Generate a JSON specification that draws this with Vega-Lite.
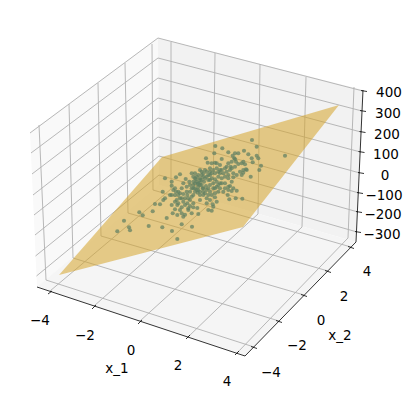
{"$schema":"https://vega.github.io/schema/vega-lite/v6.json","width":412,"height":400,"padding":0,"autosize":"none","background":"white","config":{"view":{"stroke":null}},
"datasets":{
"panes":[
{"p":"left","o":1,"u":30,"v":132},{"p":"left","o":2,"u":158,"v":38},{"p":"left","o":3,"u":159,"v":185},{"p":"left","o":4,"u":37,"v":287},{"p":"left","o":5,"u":30,"v":132}],
"back":[{"p":"back","o":1,"u":158,"v":38},{"p":"back","o":2,"u":363,"v":90},{"p":"back","o":3,"u":356,"v":242},{"p":"back","o":4,"u":159,"v":185},{"p":"back","o":5,"u":158,"v":38}],
"floor":[{"p":"floor","o":1,"u":37,"v":287},{"p":"floor","o":2,"u":159,"v":185},{"p":"floor","o":3,"u":356,"v":242},{"p":"floor","o":4,"u":245,"v":356},{"p":"floor","o":5,"u":37,"v":287}],
"plane":[{"p":"plane","o":1,"u":59,"v":275},{"p":"plane","o":2,"u":162,"v":157},{"p":"plane","o":3,"u":339,"v":105},{"p":"plane","o":4,"u":243,"v":227},{"p":"plane","o":5,"u":59,"v":275}],
"grid":[
{"u":30,"v":133,"u2":158,"v2":38},{"u":31,"v":153,"u2":158,"v2":58},{"u":32,"v":174,"u2":158,"v2":78},{"u":33,"v":195,"u2":158,"v2":98},{"u":34,"v":215,"u2":158,"v2":118},{"u":35,"v":235,"u2":158,"v2":137},{"u":35.5,"v":256,"u2":159,"v2":156},{"u":36.5,"v":276,"u2":159,"v2":175},
{"u":158,"v":38,"u2":363,"v2":91},{"u":158,"v":58,"u2":362,"v2":111},{"u":158,"v":78,"u2":361,"v2":132},{"u":158,"v":98,"u2":360.5,"v2":152},{"u":158,"v":118,"u2":360,"v2":173},{"u":158,"v":137,"u2":359,"v2":193},{"u":159,"v":156,"u2":358,"v2":212},{"u":159,"v":175,"u2":357,"v2":232},
{"u":171,"v":42,"u2":171,"v2":189},{"u":215,"v":53,"u2":213,"v2":201},{"u":260,"v":64,"u2":258,"v2":214},{"u":306,"v":77,"u2":302,"v2":227},{"u":354,"v":87,"u2":348,"v2":238},
{"u":39,"v":125,"u2":46,"v2":280},{"u":69,"v":104,"u2":73,"v2":258},{"u":98,"v":83,"u2":101,"v2":236},{"u":125,"v":63,"u2":128,"v2":213},{"u":152,"v":44,"u2":153,"v2":190},
{"u":171,"v":189,"u2":50,"v2":291},{"u":213,"v":201,"u2":94,"v2":306},{"u":258,"v":214,"u2":140,"v2":321},{"u":302,"v":227,"u2":188,"v2":337},{"u":348,"v":238,"u2":237,"v2":353},
{"u":46,"v":280,"u2":254,"v2":347},{"u":73,"v":258,"u2":279,"v2":321},{"u":101,"v":236,"u2":304,"v2":295},{"u":128,"v":213,"u2":328,"v2":271},{"u":153,"v":190,"u2":351,"v2":247}],
"axes":[
{"u":37,"v":287,"u2":245,"v2":356},{"u":245,"v":356,"u2":356,"v2":242},{"u":356,"v":242,"u2":363,"v2":90},
{"u":48,"v":294,"u2":52,"v2":291},{"u":92,"v":309,"u2":96,"v2":305},{"u":138,"v":324,"u2":142,"v2":320},{"u":186,"v":339,"u2":190,"v2":335},{"u":235,"v":355,"u2":239,"v2":351},
{"u":251,"v":346.5,"u2":257,"v2":348.5},{"u":276,"v":320.5,"u2":282,"v2":322.5},{"u":301,"v":294.5,"u2":307,"v2":296.5},{"u":325,"v":270.5,"u2":331,"v2":272.5},{"u":348,"v":246.5,"u2":354,"v2":248.5},
{"u":361,"v":90.5,"u2":367,"v2":91.5},{"u":360,"v":110.5,"u2":366,"v2":111.5},{"u":359.5,"v":131.5,"u2":365.5,"v2":132.5},{"u":358.5,"v":151.5,"u2":364.5,"v2":152.5},{"u":358,"v":172.5,"u2":364,"v2":173.5},{"u":357,"v":192.5,"u2":363,"v2":193.5},{"u":356,"v":211.5,"u2":362,"v2":212.5},{"u":355,"v":231.5,"u2":361,"v2":232.5}],
"labels":[
{"u":389,"v":93,"t":"400"},{"u":388,"v":114,"t":"300"},{"u":387,"v":135,"t":"200"},{"u":386,"v":155,"t":"100"},{"u":385,"v":176,"t":"0"},{"u":384,"v":196,"t":"−100"},{"u":383,"v":215,"t":"−200"},{"u":382,"v":235,"t":"−300"},
{"u":40,"v":321,"t":"−4"},{"u":85,"v":336,"t":"−2"},{"u":131,"v":351,"t":"0"},{"u":178,"v":366,"t":"2"},{"u":227,"v":382,"t":"4"},
{"u":117,"v":369,"t":"x_1"},
{"u":271,"v":373,"t":"−4"},{"u":297,"v":346,"t":"−2"},{"u":321,"v":321,"t":"0"},{"u":344,"v":297,"t":"2"},{"u":367,"v":272,"t":"4"},
{"u":340,"v":336,"t":"x_2"}],
"points":[{"u":285,"v":155.7},{"u":252,"v":140},{"u":256.7,"v":146.7},{"u":215.3,"v":146},{"u":222.3,"v":148.3},{"u":228.3,"v":152.3},{"u":238.3,"v":153.3},{"u":244,"v":150.7},{"u":248.3,"v":154.3},{"u":235,"v":153.3},{"u":232.7,"v":155.7},{"u":214.3,"v":153.3},{"u":206,"v":158.3},{"u":256.7,"v":155.7},{"u":258.3,"v":158.3},{"u":251.7,"v":158.3},{"u":252.7,"v":162.3},{"u":261,"v":165.7},{"u":259.3,"v":170},{"u":250.7,"v":176.7},{"u":246,"v":169.3},{"u":240,"v":171.7},{"u":241.7,"v":163.3},{"u":245,"v":164.3},{"u":236,"v":161.7},{"u":234.3,"v":158.3},{"u":221.7,"v":159},{"u":215,"v":162.7},{"u":207.7,"v":162.7},{"u":211.7,"v":163.3},{"u":226.7,"v":166.7},{"u":230.7,"v":166.7},{"u":235,"v":166.7},{"u":230,"v":170},{"u":233.3,"v":173.3},{"u":236.7,"v":175},{"u":241.7,"v":175},{"u":246.7,"v":170},{"u":220,"v":165},{"u":216.7,"v":168.3},{"u":210,"v":168.3},{"u":205,"v":170},{"u":201.7,"v":171.7},{"u":180,"v":174.3},{"u":165,"v":178.3},{"u":176,"v":177.3},{"u":171.7,"v":181.7},{"u":185.7,"v":179},{"u":191.7,"v":173.3},{"u":198.3,"v":175},{"u":189.3,"v":181.7},{"u":195,"v":178.3},{"u":203.3,"v":176.7},{"u":210,"v":175},{"u":215,"v":173.3},{"u":220,"v":173.3},{"u":225,"v":176.7},{"u":228.3,"v":178.3},{"u":231.7,"v":181.7},{"u":230,"v":186},{"u":225,"v":188.3},{"u":236.7,"v":190.7},{"u":231.7,"v":191},{"u":227.7,"v":195},{"u":235.7,"v":198.3},{"u":242.3,"v":198.7},{"u":229.3,"v":199.3},{"u":215,"v":197.3},{"u":216.7,"v":201.7},{"u":212.7,"v":204.3},{"u":208.3,"v":210},{"u":211.7,"v":210.7},{"u":213.3,"v":206.7},{"u":206.7,"v":203.3},{"u":200,"v":200},{"u":203.3,"v":195},{"u":210,"v":191.7},{"u":196.7,"v":190},{"u":200,"v":185},{"u":193.3,"v":185},{"u":186.7,"v":186.7},{"u":181.7,"v":188.3},{"u":178.3,"v":191.7},{"u":175,"v":195},{"u":180,"v":193.3},{"u":171.7,"v":195},{"u":162.7,"v":191.7},{"u":171.7,"v":185.7},{"u":165,"v":198.3},{"u":163.3,"v":200},{"u":160,"v":204.3},{"u":155,"v":204},{"u":152.7,"v":211.3},{"u":139.3,"v":212.3},{"u":142.7,"v":215.3},{"u":124,"v":220.7},{"u":117.3,"v":231.3},{"u":129,"v":227.3},{"u":130,"v":230.3},{"u":148.7,"v":226},{"u":162.3,"v":227.3},{"u":172,"v":231},{"u":177.3,"v":239},{"u":181.7,"v":224.3},{"u":192,"v":226.7},{"u":166.7,"v":218},{"u":172.7,"v":213.3},{"u":177.3,"v":215},{"u":183.3,"v":216.7},{"u":185,"v":214.7},{"u":191.7,"v":213.3},{"u":198.3,"v":214},{"u":197.3,"v":208},{"u":188.3,"v":210},{"u":181.7,"v":207.3},{"u":180,"v":210},{"u":175,"v":209.3},{"u":171.7,"v":205},{"u":177.3,"v":205},{"u":190,"v":200},{"u":185,"v":198.3},{"u":183.3,"v":194},{"u":187.3,"v":195},{"u":193.3,"v":195},{"u":197.7,"v":192.7},{"u":202.7,"v":188.3},{"u":206,"v":186},{"u":210,"v":185},{"u":213.3,"v":183.3},{"u":216.7,"v":186.7},{"u":220,"v":183.3},{"u":221.7,"v":178.3},{"u":215,"v":179.3},{"u":208.3,"v":180},{"u":204,"v":181.7},{"u":200,"v":180},{"u":196.7,"v":181.7},{"u":191.7,"v":188.3},{"u":195,"v":188.3},{"u":198.3,"v":186.7},{"u":206.7,"v":198.3},{"u":211.7,"v":195},{"u":215,"v":193.3},{"u":218.3,"v":191.7},{"u":206.7,"v":171.7},{"u":210,"v":171.7},{"u":213.3,"v":170},{"u":218.3,"v":171.7},{"u":221.7,"v":170},{"u":228.3,"v":175},{"u":233.3,"v":177.3},{"u":231.7,"v":161.7},{"u":235,"v":159.3},{"u":226.7,"v":171.7},{"u":225,"v":168.3},{"u":243.3,"v":170},{"u":243.3,"v":172.7},{"u":206.7,"v":190},{"u":203.3,"v":191.7},{"u":190,"v":191.7},{"u":186.7,"v":191.7},{"u":181.7,"v":198.3},{"u":176.7,"v":200},{"u":173.3,"v":190},{"u":176,"v":191.7},{"u":178.3,"v":195},{"u":183.3,"v":201.7},{"u":187.3,"v":203.3},{"u":190,"v":206},{"u":193.3,"v":207.3},{"u":200,"v":178.3},{"u":201.7,"v":175},{"u":206.7,"v":176.7},{"u":203.3,"v":173.3},{"u":211.7,"v":178.3},{"u":218.3,"v":176.7},{"u":221.7,"v":183.3},{"u":216.7,"v":181.7},{"u":196.7,"v":176.7},{"u":193.3,"v":176.7},{"u":195,"v":183.3},{"u":190,"v":185},{"u":198.3,"v":190},{"u":201.7,"v":185},{"u":205,"v":193.3},{"u":208.3,"v":195},{"u":215,"v":188.3},{"u":220,"v":188.3},{"u":228.3,"v":190},{"u":233.3,"v":188.3},{"u":196,"v":179.3},{"u":197.7,"v":184},{"u":200,"v":182.7},{"u":195,"v":173.3},{"u":200,"v":170},{"u":198.3,"v":183.3},{"u":193.3,"v":188.3},{"u":201.7,"v":180},{"u":205,"v":178.3},{"u":208.3,"v":175},{"u":211.7,"v":173.3},{"u":216.7,"v":163.3},{"u":220,"v":170},{"u":223.3,"v":173.3},{"u":228.3,"v":163.3},{"u":231.7,"v":168.3},{"u":218.3,"v":185},{"u":213.3,"v":188.3},{"u":208.3,"v":188.3},{"u":203.3,"v":188.3},{"u":200,"v":191.7},{"u":195,"v":191.7},{"u":191.7,"v":196.7},{"u":188.3,"v":198.3},{"u":200,"v":195},{"u":210,"v":200},{"u":180,"v":198.3},{"u":178.3,"v":203.3},{"u":175,"v":201.7},{"u":185,"v":205},{"u":181.7,"v":213.3},{"u":188.3,"v":208.3},{"u":193.3,"v":203.3},{"u":170,"v":195},{"u":175,"v":188.3},{"u":183.3,"v":183.3},{"u":193.3,"v":181.7},{"u":210,"v":180},{"u":225,"v":183.3},{"u":228.3,"v":186.7},{"u":223.3,"v":191.7},{"u":238.3,"v":164},{"u":243.3,"v":161.7}]
},
"layer":[
{"data":{"name":"panes"},"mark":{"type":"line","fill":"#f9f9f9","strokeWidth":0},"encoding":{"x":{"field":"u","type":"quantitative","scale":{"domain":[0,412],"nice":false,"zero":false},"axis":null},"y":{"field":"v","type":"quantitative","scale":{"domain":[400,0],"nice":false,"zero":false},"axis":null},"order":{"field":"o"}}},
{"data":{"name":"back"},"mark":{"type":"line","fill":"#f2f2f2","strokeWidth":0},"encoding":{"x":{"field":"u","type":"quantitative"},"y":{"field":"v","type":"quantitative"},"order":{"field":"o"}}},
{"data":{"name":"floor"},"mark":{"type":"line","fill":"#f5f5f5","strokeWidth":0},"encoding":{"x":{"field":"u","type":"quantitative"},"y":{"field":"v","type":"quantitative"},"order":{"field":"o"}}},
{"data":{"name":"grid"},"mark":{"type":"rule","color":"#b0b0b0","strokeWidth":0.9},"encoding":{"x":{"field":"u","type":"quantitative"},"y":{"field":"v","type":"quantitative"},"x2":{"field":"u2"},"y2":{"field":"v2"}}},
{"data":{"name":"plane"},"mark":{"type":"line","fill":"#d6a42a","fillOpacity":0.55,"strokeWidth":0},"encoding":{"x":{"field":"u","type":"quantitative"},"y":{"field":"v","type":"quantitative"},"order":{"field":"o"}}},
{"data":{"name":"points"},"mark":{"type":"circle","size":17,"color":"#5f7f62","opacity":0.72},"encoding":{"x":{"field":"u","type":"quantitative"},"y":{"field":"v","type":"quantitative"}}},
{"data":{"name":"axes"},"mark":{"type":"rule","color":"#000000","strokeWidth":0.8},"encoding":{"x":{"field":"u","type":"quantitative"},"y":{"field":"v","type":"quantitative"},"x2":{"field":"u2"},"y2":{"field":"v2"}}},
{"data":{"name":"labels"},"mark":{"type":"text","font":"DejaVu Sans","fontSize":13.5,"color":"#000000","align":"center","baseline":"middle"},"encoding":{"x":{"field":"u","type":"quantitative"},"y":{"field":"v","type":"quantitative"},"text":{"field":"t"}}}
]}
